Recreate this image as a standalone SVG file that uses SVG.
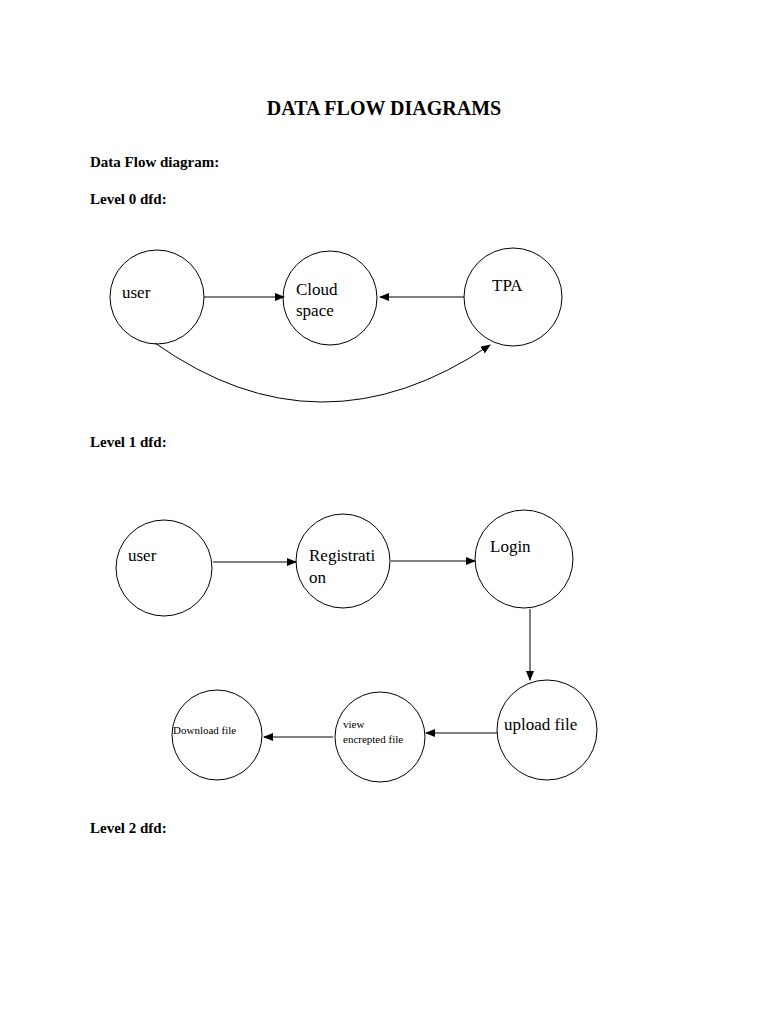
<svg xmlns="http://www.w3.org/2000/svg" width="768" height="1024" viewBox="0 0 768 1024">
<style>
.n{fill:#fff;stroke:#000;stroke-width:1}
.h{font-family:"Liberation Serif",serif;font-weight:bold;font-size:15px}
.t{font-family:"Liberation Serif",serif;font-size:17px}
.s{font-family:"Liberation Serif",serif;font-size:11px}
.c{fill:none;stroke:#000;stroke-width:1}
</style>
<defs><marker id="a" markerWidth="10" markerHeight="8" refX="9" refY="4" orient="auto" markerUnits="userSpaceOnUse"><path d="M0,0L10,4L0,8z" fill="#000"/></marker></defs>
<rect width="768" height="1024" fill="#fff"/>
<text x="384" y="115" text-anchor="middle" font-family="Liberation Serif,serif" font-weight="bold" font-size="20">DATA FLOW DIAGRAMS</text>
<text x="90" y="167" class="h">Data Flow diagram:</text>
<text x="90" y="204" class="h">Level 0 dfd:</text>
<text x="90" y="447" class="h">Level 1 dfd:</text>
<text x="90" y="833" class="h">Level 2 dfd:</text>
<g id="n-user0"><circle class="n" cx="157" cy="297" r="47"/><text x="122" y="298" class="t">user</text></g>
<g id="n-cloud"><circle class="n" cx="330" cy="298" r="47"/><text x="296" y="295" class="t">Cloud</text><text x="296" y="316" class="t">space</text></g>
<g id="n-tpa"><circle class="n" cx="513" cy="297" r="49"/><text x="492" y="291" class="t">TPA</text></g>
<g id="n-user1"><circle class="n" cx="164" cy="568" r="48"/><text x="128" y="561" class="t">user</text></g>
<g id="n-reg"><circle class="n" cx="343" cy="561" r="47"/><text x="309" y="561" class="t">Registrati</text><text x="309" y="583" class="t">on</text></g>
<g id="n-login"><circle class="n" cx="524" cy="559" r="49"/><text x="490" y="552" class="t">Login</text></g>
<g id="n-upload"><circle class="n" cx="547" cy="730" r="50"/><text x="504" y="730" class="t" font-size="18">upload file</text></g>
<g id="n-view"><circle class="n" cx="380" cy="737" r="45"/><text x="343" y="728" class="s">view</text><text x="343" y="743" class="s">encrepted file</text></g>
<g id="n-down"><circle class="n" cx="217" cy="735" r="45"/><text x="173" y="734" class="s">Download file</text></g>
<g id="connectors">
<line class="c" x1="204" y1="297" x2="284" y2="297" marker-end="url(#a)"/>
<line class="c" x1="464" y1="297" x2="380" y2="297" marker-end="url(#a)"/>
<path class="c" d="M155,343 Q320,460 490,345" marker-end="url(#a)"/>
<line class="c" x1="213" y1="562" x2="296" y2="562" stroke="#888" marker-end="url(#a)"/>
<line class="c" x1="391" y1="561" x2="475" y2="561" marker-end="url(#a)"/>
<line class="c" x1="530" y1="609" x2="530" y2="680" marker-end="url(#a)"/>
<line class="c" x1="497" y1="733" x2="426" y2="733" marker-end="url(#a)"/>
<line class="c" x1="333" y1="737" x2="264" y2="737" marker-end="url(#a)"/>
</g>
</svg>
